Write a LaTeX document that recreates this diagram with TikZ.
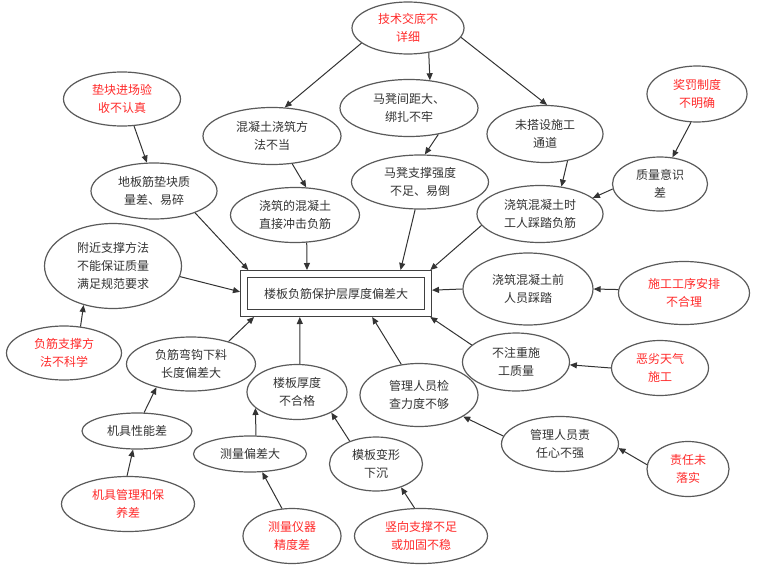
\documentclass[tikz,border=0pt]{standalone}
\usepackage{fontspec}
\setmainfont{Noto Sans CJK SC}
\usepackage{xcolor}
\usepackage{tikz}
\usetikzlibrary{shapes.geometric, arrows.meta, positioning}
\definecolor{causetext}{HTML}{333333}
\definecolor{rootred}{HTML}{FF2A2A}
\definecolor{rimgray}{HTML}{5A5A5A}
\tikzset{
  causebox/.style={
    ellipse, draw=rimgray, line width=1.2pt, inner sep=0pt, align=center,
    font=\fontsize{12}{18}\selectfont, text=causetext, fill=white
  },
  rootbox/.style={
    causebox, text=rootred
  },
  problembox/.style={
    rectangle, draw=black!75, line width=1.1pt, double, double distance=6pt,
    minimum width=184pt, minimum height=39pt, outer sep=4pt,
    font=\fontsize{12}{18}\selectfont, text=causetext
  },
  causearrow/.style={
    -{Triangle[length=7pt, width=6pt]}, line width=1pt, color=black!80
  },
}

\begin{document}
\begin{tikzpicture}[x=1pt, y=-1pt]
  \useasboundingbox (0,0) rectangle (760,570);

  % Central problem
  \node[problembox] (center) at (336,293.5) {楼板负筋保护层厚度偏差大};

  % Upper causes
  \node[rootbox, minimum width=112pt, minimum height=52pt] (tech) at (408,28)
    {技术交底不\\详细};
  \node[rootbox, minimum width=117pt, minimum height=54pt] (pad) at (122,99)
    {垫块进场验\\收不认真};
  \node[causebox, minimum width=138pt, minimum height=57pt] (method) at (272,136)
    {混凝土浇筑方\\法不当};
  \node[causebox, minimum width=138pt, minimum height=57pt] (chair) at (409,108)
    {马凳间距大、\\绑扎不牢};
  \node[causebox, minimum width=116pt, minimum height=57pt] (passage) at (545,134)
    {未搭设施工\\通道};
  \node[rootbox, minimum width=100pt, minimum height=56pt] (reward) at (697,94)
    {奖罚制度\\不明确};
  \node[causebox, minimum width=126pt, minimum height=56pt] (slabpad) at (154,191)
    {地板筋垫块质\\量差、易碎};
  \node[causebox, minimum width=129pt, minimum height=55pt] (impact) at (295,215)
    {浇筑的混凝土\\直接冲击负筋};
  \node[causebox, minimum width=137pt, minimum height=54pt] (chairstr) at (420,182)
    {马凳支撑强度\\不足、易倒};
  \node[causebox, minimum width=95pt, minimum height=54pt] (aware) at (660,184)
    {质量意识\\差};
  \node[causebox, minimum width=126pt, minimum height=57pt] (tread) at (540,214)
    {浇筑混凝土时\\工人踩踏负筋};

  % Side causes
  \node[causebox, minimum width=137pt, minimum height=85pt] (support) at (113,266)
    {附近支撑方法\\不能保证质量\\满足规范要求};
  \node[causebox, minimum width=130pt, minimum height=72pt] (treadpre) at (528,289)
    {浇筑混凝土前\\人员踩踏};
  \node[rootbox, minimum width=131pt, minimum height=63pt] (sequence) at (684,293)
    {施工工序安排\\不合理};

  % Lower causes
  \node[rootbox, minimum width=115pt, minimum height=54pt] (supmeth) at (64,353)
    {负筋支撑方\\法不科学};
  \node[causebox, minimum width=129pt, minimum height=54pt] (hook) at (191,364)
    {负筋弯钩下料\\长度偏差大};
  \node[causebox, minimum width=100pt, minimum height=55pt] (thick) at (297,392)
    {楼板厚度\\不合格};
  \node[causebox, minimum width=107pt, minimum height=58pt] (careless) at (516,362)
    {不注重施\\工质量};
  \node[rootbox, minimum width=97pt, minimum height=55pt] (weather) at (660,368)
    {恶劣天气\\施工};
  \node[causebox, minimum width=118pt, minimum height=63pt] (check) at (419,395)
    {管理人员检\\查力度不够};
  \node[causebox, minimum width=110pt, minimum height=36pt] (machine) at (137,431)
    {机具性能差};
  \node[causebox, minimum width=113pt, minimum height=36pt] (measure) at (250,454)
    {测量偏差大};
  \node[causebox, minimum width=93pt, minimum height=54pt] (deform) at (376,464)
    {模板变形\\下沉};
  \node[causebox, minimum width=117pt, minimum height=55pt] (duty) at (560,444)
    {管理人员责\\任心不强};
  \node[rootbox, minimum width=82pt, minimum height=55pt] (unimpl) at (688,469)
    {责任未\\落实};
  \node[rootbox, minimum width=133pt, minimum height=55pt] (maint) at (128,504)
    {机具管理和保\\养差};
  \node[rootbox, minimum width=98pt, minimum height=55pt] (instr) at (292,536)
    {测量仪器\\精度差};
  \node[rootbox, minimum width=133pt, minimum height=55pt] (vert) at (421,536)
    {竖向支撑不足\\或加固不稳};

  % Arrows between causes
  \draw[causearrow] (tech.198) -- (method.66);
  \draw[causearrow] (tech.-50) -- (chair.53);
  \draw[causearrow] (tech.-10) -- (passage.86);
  \draw[causearrow] (pad.-66) -- (slabpad.104);
  \draw[causearrow] (method.-54) -- (impact.68);
  \draw[causearrow] (chair.-42) -- (chairstr.80);
  \draw[causearrow] (passage.-50) -- (tread.52);
  \draw[causearrow] (reward.-102) -- (aware.65);
  \draw[causearrow] (aware.186) -- (tread.17);
  \draw[causearrow] (sequence.177) -- (treadpre.east);
  \draw[causearrow] (supmeth.58) -- (support.-127);
  \draw[causearrow] (machine.69) -- (hook.-146);
  \draw[causearrow] (maint.92) -- (machine.-102);
  \draw[causearrow] (measure.72) -- (thick.-159);
  \draw[causearrow] (instr.110) -- (measure.-56);
  \draw[causearrow] (deform.139) -- (thick.-31);
  \draw[causearrow] (vert.103) -- (deform.-43);
  \draw[causearrow] (weather.west) -- (careless.-3);
  \draw[causearrow] (duty.172) -- (check.-26);
  \draw[causearrow] (unimpl.174) -- (duty.-4);

  % Arrows into the central problem
  \draw[causearrow] (slabpad.-28) -- (center.165);
  \draw[causearrow] (impact.-67) -- (center.141);
  \draw[causearrow] (chairstr.-100) -- (center.20);
  \draw[causearrow] (tread.191) -- (center.14.5);
  \draw[causearrow] (support.-9) -- (center.179);
  \draw[causearrow] (treadpre.west) -- (center.2.7);
  \draw[causearrow] (hook.31) -- (center.-164);
  \draw[causearrow] (thick.84) -- (center.-147);
  \draw[causearrow] (check.120) -- (center.-33);
  \draw[causearrow] (careless.159) -- (center.-14.5);
\end{tikzpicture}
\end{document}
